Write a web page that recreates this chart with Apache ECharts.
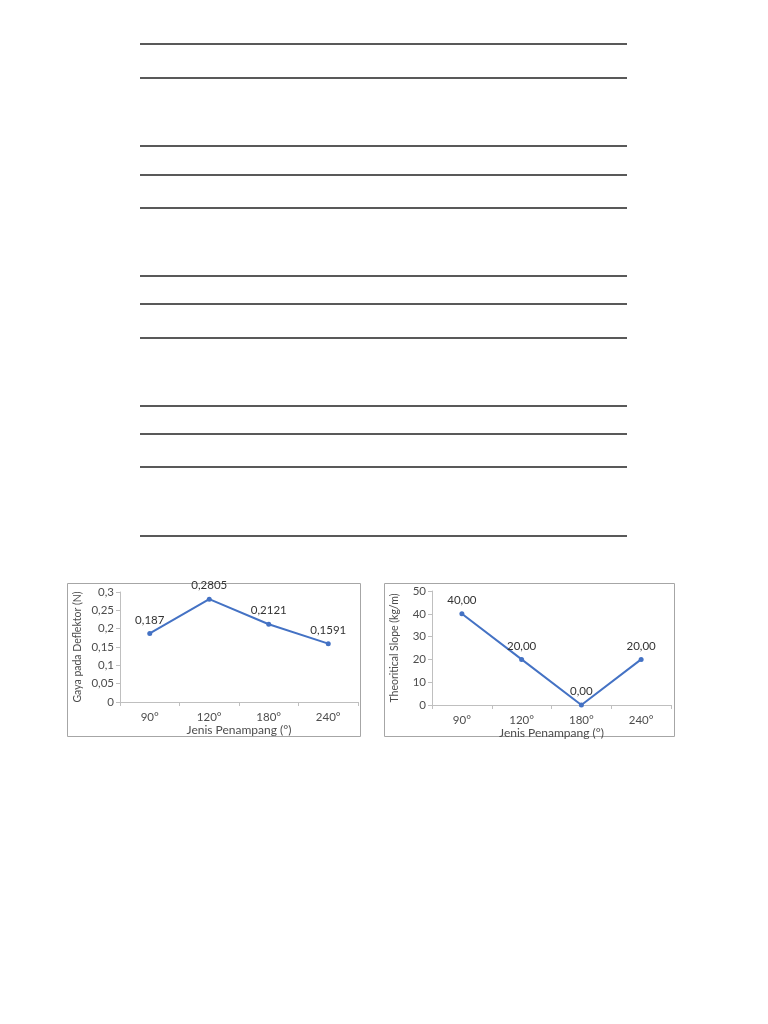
<!DOCTYPE html>
<html><head><meta charset="utf-8">
<script src="https://cdn.jsdelivr.net/npm/echarts@6/dist/echarts.min.js"></script>
<style>html,body{margin:0;padding:0;background:#fff}#c{width:768px;height:1024px}</style>
</head><body><div id="c"></div>
<script>
const categories = ['90°', '120°', '180°', '240°'];
const gayaValues = [0.187, 0.2805, 0.2121, 0.1591];
const slopeValues = [40, 20, 0, 20];
const ruleYs = [44, 78, 146, 175, 208, 276, 304, 338, 406, 434, 467, 536];

const FONT = 'Lato';
const lineColor = '#4472C4';
const comma = v => String(parseFloat(Number(v).toFixed(4))).replace('.', ',');

const graphics = ruleYs.map(y => ({
  type: 'line', shape: {x1: 140, y1: y, x2: 627, y2: y},
  style: {stroke: '#222', lineWidth: 1.3}
}));
graphics.push({type: 'rect', shape: {x: 67.5, y: 583.5, width: 293, height: 153}, style: {fill: 'none', stroke: '#a6a6a6', lineWidth: 1}});
graphics.push({type: 'rect', shape: {x: 384.5, y: 583.5, width: 290, height: 153}, style: {fill: 'none', stroke: '#a6a6a6', lineWidth: 1}});

const axisText = {color: '#4d4d4d', fontFamily: FONT, fontSize: 11.5};
const xNameText = {color: '#4d4d4d', fontFamily: FONT, fontSize: 12};
const yNameText = {color: '#4d4d4d', fontFamily: FONT, fontSize: 10.5};
function xAxis(gi, gap) {
  return {
    type: 'category', gridIndex: gi, data: categories, boundaryGap: true,
    axisLine: {lineStyle: {color: '#bfbfbf'}},
    axisTick: {show: true, length: 4, lineStyle: {color: '#bfbfbf'}, alignWithLabel: false},
    axisLabel: Object.assign({margin: 9}, axisText),
    name: 'Jenis Penampang (°)', nameLocation: 'middle', nameGap: gap,
    nameTextStyle: xNameText
  };
}
function yAxis(gi, max, interval, name, gap, fmt) {
  return {
    type: 'value', gridIndex: gi, min: 0, max: max, interval: interval,
    axisLine: {show: true, lineStyle: {color: '#bfbfbf'}},
    axisTick: {show: true, length: 4, lineStyle: {color: '#bfbfbf'}},
    splitLine: {show: false},
    axisLabel: Object.assign({margin: 6, formatter: fmt}, axisText),
    name: name, nameLocation: 'middle', nameGap: gap, nameRotate: 90,
    nameTextStyle: yNameText
  };
}
function series(gi, data, fmt) {
  return {
    type: 'line', xAxisIndex: gi, yAxisIndex: gi, data: data,
    symbol: 'circle', symbolSize: 5,
    lineStyle: {color: lineColor, width: 2}, itemStyle: {color: lineColor},
    label: {show: true, position: 'top', distance: 5, color: '#333', fontFamily: FONT, fontSize: 11.5, formatter: p => fmt(p.value)},
    animation: false
  };
}

const chart = echarts.init(document.getElementById('c'));
chart.setOption({
  animation: false,
  graphic: graphics,
  grid: [
    {left: 120, top: 592, width: 238, height: 110},
    {left: 432, top: 591, width: 239, height: 114}
  ],
  xAxis: [xAxis(0, 21), xAxis(1, 18)],
  yAxis: [
    yAxis(0, 0.3, 0.05, 'Gaya pada Deflektor (N)', 37, v => comma(v)),
    yAxis(1, 50, 10, 'Theoritical Slope (kg/m)', 32, v => String(v))
  ],
  series: [
    series(0, gayaValues, v => comma(v)),
    series(1, slopeValues, v => Number(v).toFixed(2).replace('.', ','))
  ]
});
</script></body></html>
